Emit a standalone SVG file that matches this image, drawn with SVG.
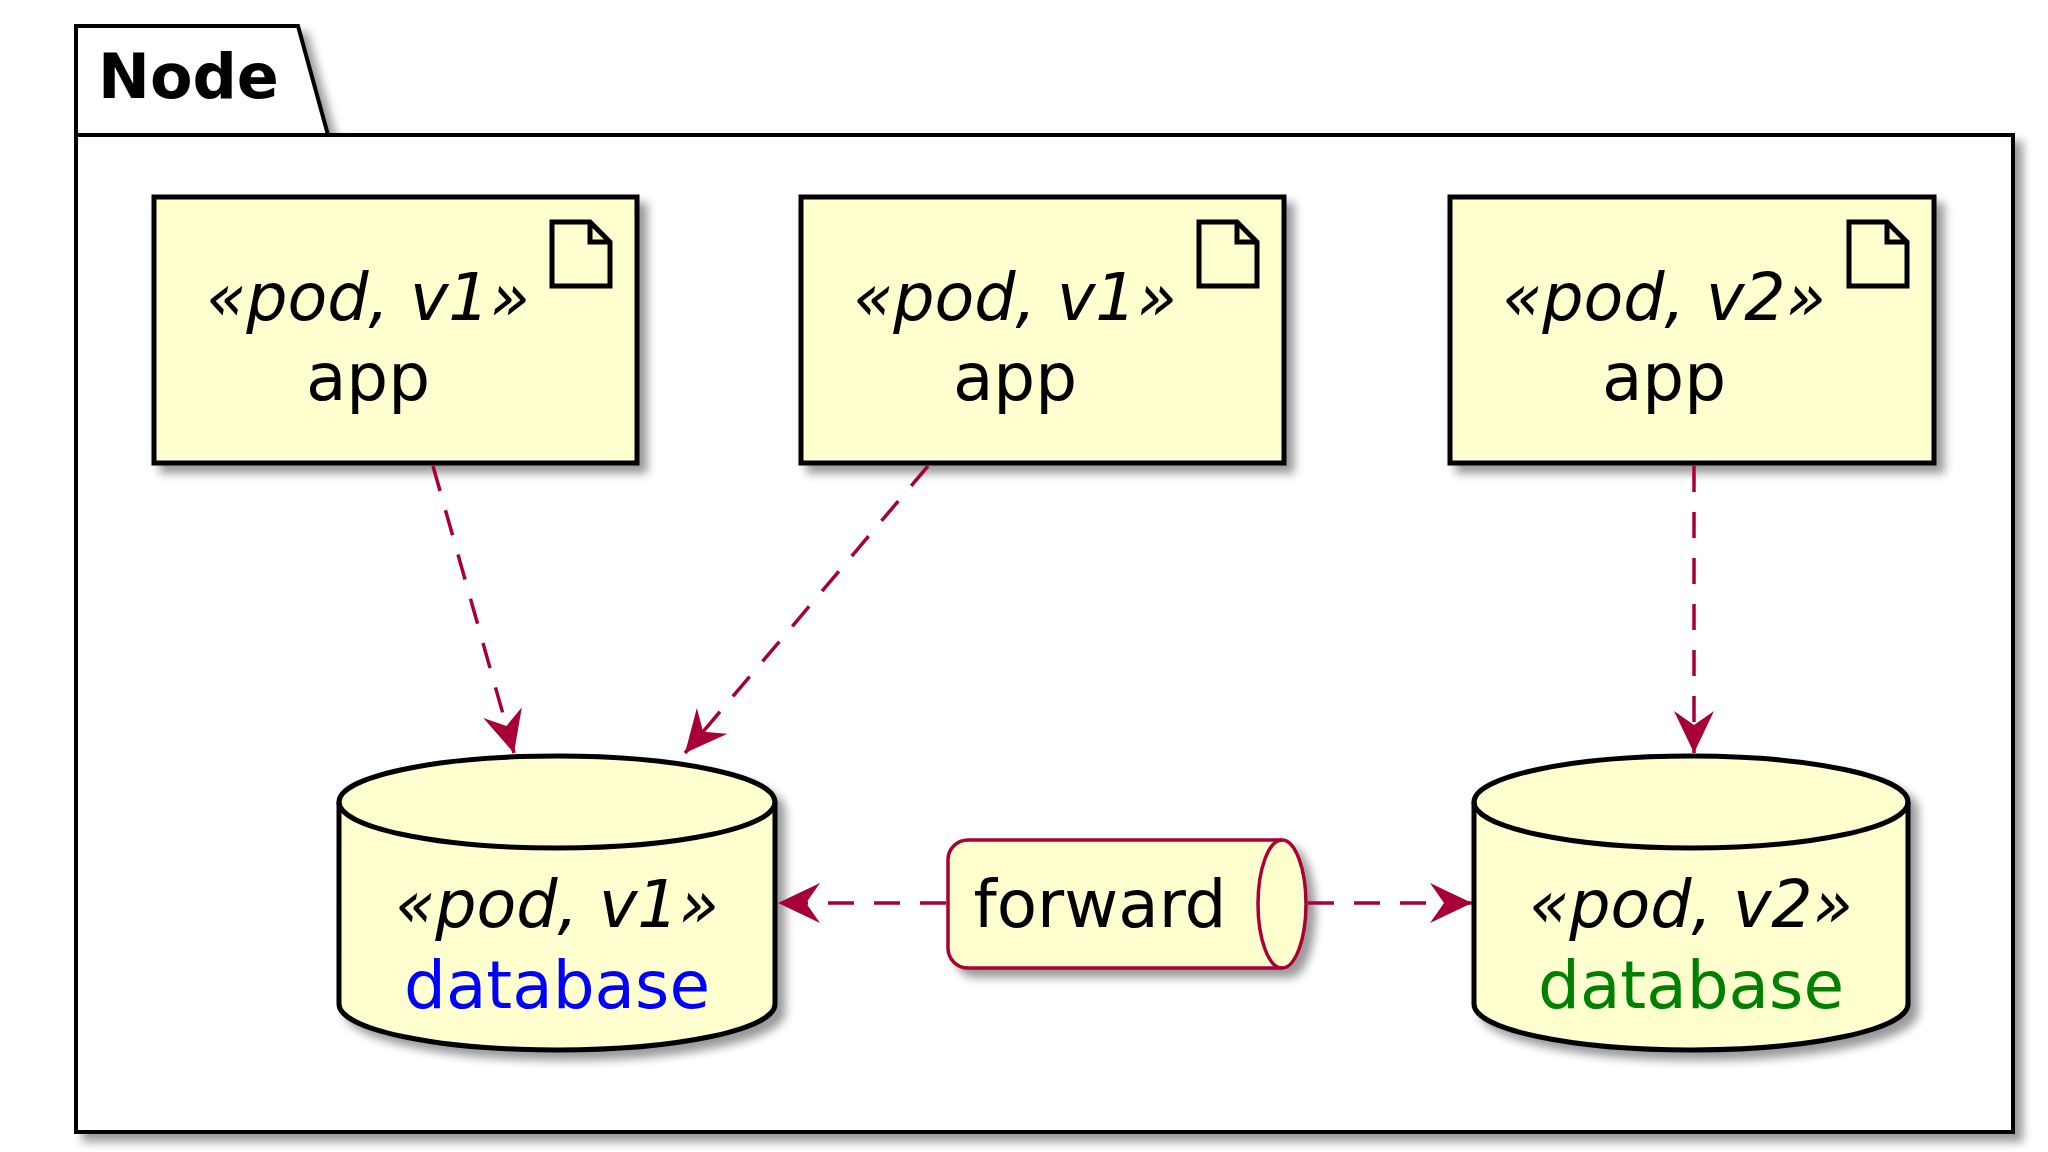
<svg xmlns="http://www.w3.org/2000/svg" width="2048" height="1152" viewBox="0 0 2048 1152">
<defs>
<filter id="sh" x="-10%" y="-10%" width="130%" height="130%"><feGaussianBlur in="SourceAlpha" stdDeviation="5"/><feOffset dx="8" dy="8"/><feComponentTransfer><feFuncA type="linear" slope="0.4"/></feComponentTransfer><feMerge><feMergeNode/><feMergeNode in="SourceGraphic"/></feMerge></filter>
<marker id="ah" viewBox="0 0 44 40" refX="42" refY="20" markerWidth="44" markerHeight="40" markerUnits="userSpaceOnUse" orient="auto"><path d="M0,0 L42,20 L0,40 L14,20 Z" fill="#A80036"/></marker>
</defs>
<style>
.box{fill:#FEFECE;stroke:#000;stroke-width:5}
.st{font-family:"DejaVu Sans",sans-serif;font-style:italic;font-size:65px;text-anchor:middle}
.nm{font-family:"DejaVu Sans",sans-serif;font-size:66px;text-anchor:middle}
.ln{stroke:#A80036;stroke-width:3.5;fill:none;stroke-dasharray:26,20;marker-end:url(#ah)}
.ic{fill:none;stroke:#000;stroke-width:5}
</style>
<rect width="2048" height="1152" fill="#fff"/>
<g id="pkg">
<path d="M76,135 L76,26 L298,26 L328,135 Z M76,135 L2013,135 L2013,1132 L76,1132 Z" fill="#fff" stroke="#000" stroke-width="4" filter="url(#sh)"/>
<text x="98" y="98" font-family="DejaVu Sans,sans-serif" font-weight="bold" font-size="62">Node</text>
</g>
<g id="app1">
<rect class="box" x="154" y="197" width="483" height="266" filter="url(#sh)"/>
<path class="ic" d="M552,222 L590,222 L610,242 L610,286 L552,286 Z M590,222 L590,242 L610,242"/>
<text class="st" x="368" y="320">«pod, v1»</text><text class="nm" x="368" y="400">app</text>
</g>
<g id="app2">
<rect class="box" x="801" y="197" width="483" height="266" filter="url(#sh)"/>
<path class="ic" d="M1199,222 L1237,222 L1257,242 L1257,286 L1199,286 Z M1237,222 L1237,242 L1257,242"/>
<text class="st" x="1015" y="320">«pod, v1»</text><text class="nm" x="1015" y="400">app</text>
</g>
<g id="app3">
<rect class="box" x="1450" y="197" width="484" height="266" filter="url(#sh)"/>
<path class="ic" d="M1849,222 L1887,222 L1907,242 L1907,286 L1849,286 Z M1887,222 L1887,242 L1907,242"/>
<text class="st" x="1664" y="320">«pod, v2»</text><text class="nm" x="1664" y="400">app</text>
</g>
<g id="db1">
<path class="box" d="M339,802 A218,46 0 0 1 775,802 L775,1004 A218,46 0 0 1 339,1004 Z" filter="url(#sh)"/>
<path class="ic" d="M339,802 A218,46 0 0 0 775,802"/>
<text class="st" x="557" y="927">«pod, v1»</text><text class="nm" x="557" y="1008" fill="#0000FF">database</text>
</g>
<g id="db2">
<path class="box" d="M1474,802 A217,46 0 0 1 1908,802 L1908,1004 A217,46 0 0 1 1474,1004 Z" filter="url(#sh)"/>
<path class="ic" d="M1474,802 A217,46 0 0 0 1908,802"/>
<text class="st" x="1691" y="927">«pod, v2»</text><text class="nm" x="1691" y="1008" fill="#008000">database</text>
</g>
<g id="forward">
<path d="M968,840 L1282,840 A24,64 0 0 1 1282,968 L968,968 A20,20 0 0 1 948,948 L948,860 A20,20 0 0 1 968,840 Z" fill="#FEFECE" stroke="#A80036" stroke-width="3.5" filter="url(#sh)"/>
<path d="M1282,840 A24,64 0 0 0 1282,968" fill="none" stroke="#A80036" stroke-width="3.5"/>
<text class="nm" x="1100" y="927">forward</text>
</g>
<g id="connectors">
<line class="ln" x1="433" y1="466" x2="514" y2="753"/>
<line class="ln" x1="928" y1="466" x2="685" y2="753"/>
<line class="ln" x1="1694" y1="466" x2="1694" y2="753"/>
<line class="ln" x1="946" y1="903" x2="778" y2="903"/>
<line class="ln" x1="1308" y1="903" x2="1472" y2="903"/>
</g>
</svg>
